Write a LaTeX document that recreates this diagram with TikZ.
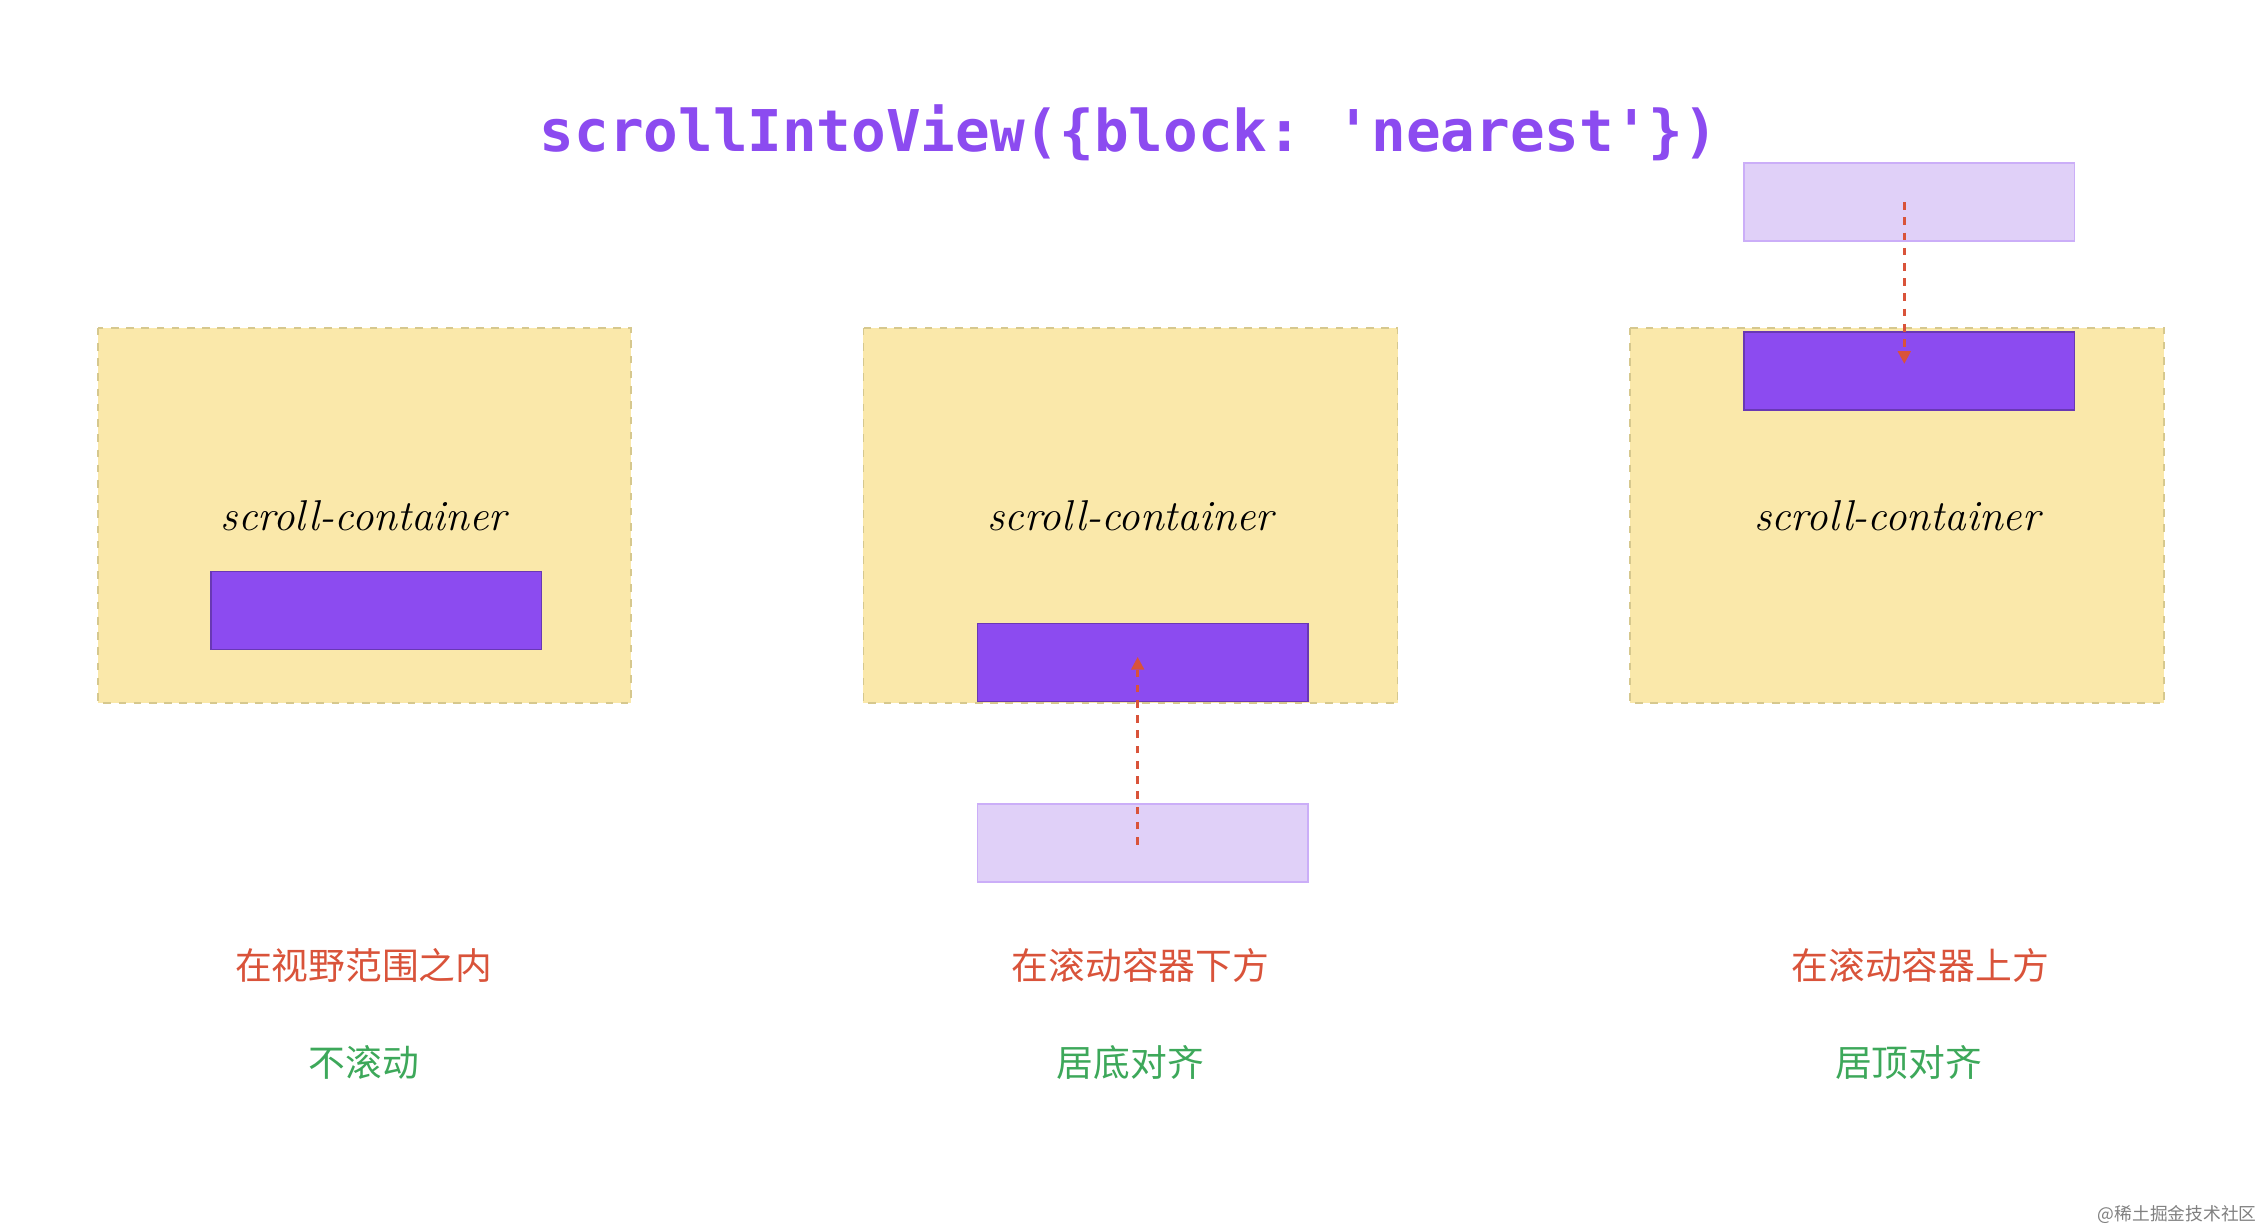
\documentclass[tikz,border=0pt]{standalone}
\usepackage{fontspec}
\setmonofont{DejaVu Sans Mono}
\newfontfamily\cjk{Noto Sans CJK SC}
\usetikzlibrary{arrows.meta}
\definecolor{pur}{HTML}{8C4BF0}
\definecolor{lpur}{HTML}{E0D0F8}
\definecolor{cont}{HTML}{FAE8AA}
\definecolor{contb}{HTML}{D6C88E}
\definecolor{redt}{HTML}{D9533A}
\definecolor{grnt}{HTML}{3DA85A}
\tikzset{
 box/.style={draw=contb,dashed,fill=cont,line width=0.6pt},
 bar/.style={draw=pur!75!black,fill=pur,line width=0.6pt},
 ghost/.style={draw=pur!45,fill=lpur,line width=0.6pt},
 lab/.style={font=\itshape\fontsize{17}{20}\selectfont},
 red/.style={text=redt,font=\cjk\fontsize{14.5}{17}\selectfont},
 grn/.style={text=grnt,font=\cjk\fontsize{14.5}{17}\selectfont},
 arr/.style={draw=redt,dashed,line width=1pt,-{Triangle[length=5pt,width=5pt]}}
}
\begin{document}
\begin{tikzpicture}[x=0.02cm,y=-0.02cm]
\useasboundingbox (0,0) rectangle (1564,850.6);
\node[text=pur,font=\ttfamily\bfseries\fontsize{22.7}{26}\selectfont] (t) at (782,92) {scrollIntoView(\{block: 'nearest'\})};
% containers
\draw[box] (68,227) rectangle (437,487);
\draw[box] (598,227) rectangle (968,487);
\draw[box] (1129,227) rectangle (1499,487);
\node[lab] (l1) at (252,357) {scroll-container};
\node[lab] (l2) at (783,357) {scroll-container};
\node[lab] (l3) at (1314,357) {scroll-container};
% bars
\draw[bar] (146,396) rectangle (375,450);
\draw[ghost] (677,557) rectangle (906,611);
\draw[bar] (677,432) rectangle (906,486);
\draw[ghost] (1208,113) rectangle (1437,167);
\draw[bar] (1208,230) rectangle (1437,284);
\coordinate (a1) at (788,585); \coordinate (a2) at (788,455);
\coordinate (b1) at (1319,140); \coordinate (b2) at (1319,252);
\draw[arr] (a1) -- (a2);
\draw[arr] (b1) -- (b2);
% texts
\node[red] (r1) at (252,669) {在视野范围之内};
\node[red] (r2) at (790,669) {在滚动容器下方};
\node[red] (r3) at (1330,669) {在滚动容器上方};
\node[grn] (g1) at (252,736) {不滚动};
\node[grn] (g2) at (783,736) {居底对齐};
\node[grn] (g3) at (1322,736) {居顶对齐};
\node[text=gray,font=\cjk\fontsize{7}{8}\selectfont] (w) at (1508,841) {@稀土掘金技术社区};
\end{tikzpicture}
\end{document}
